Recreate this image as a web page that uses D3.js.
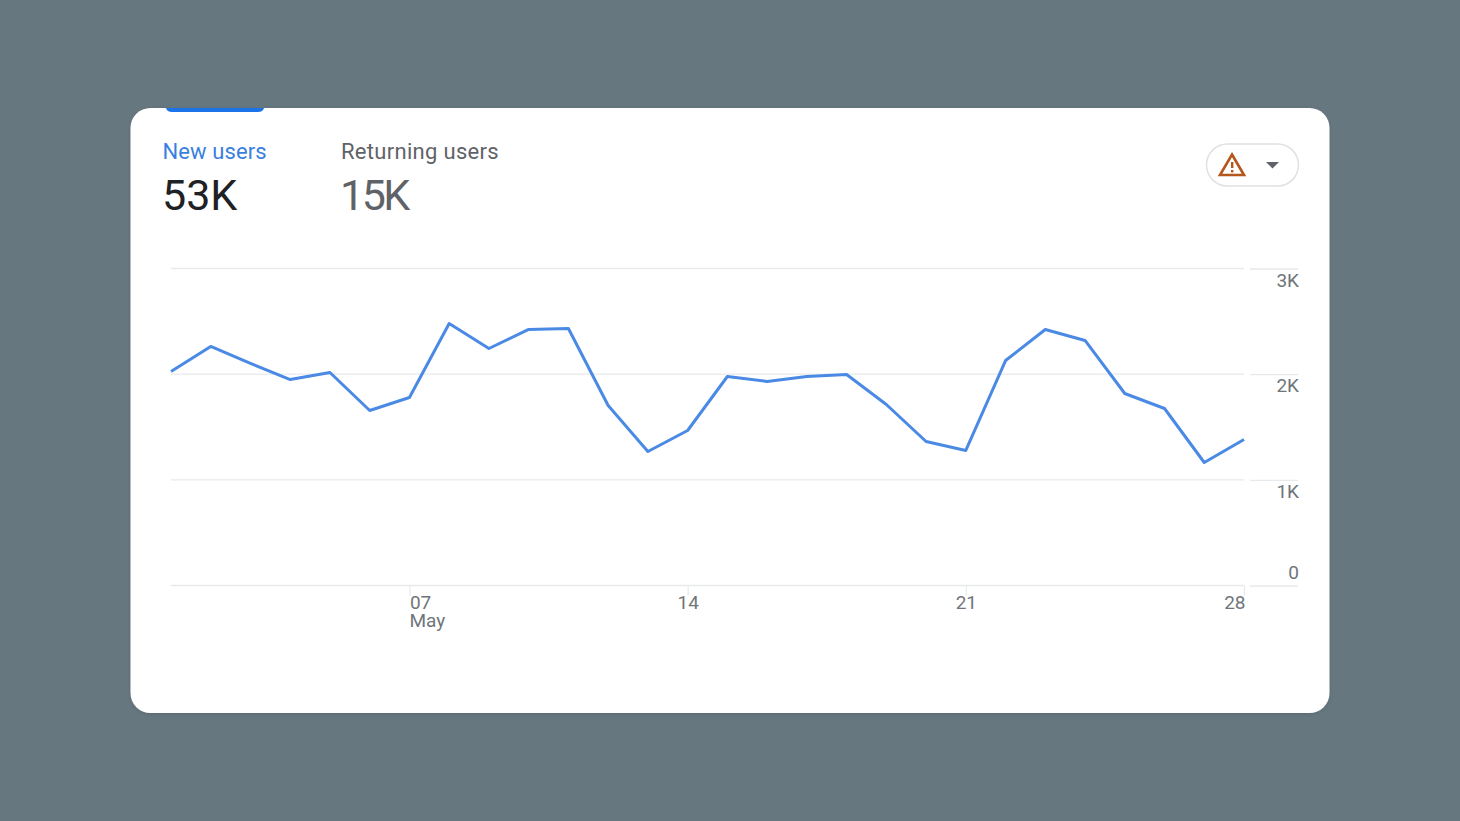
<!DOCTYPE html>
<html>
<head>
  <meta charset="utf-8">
  <title>New users</title>
  <script src="https://d3js.org/d3.v7.min.js"></script>
  <style>
    html, body { margin: 0; padding: 0; background: #677780; }
    svg { display: block; font-family: Roboto, sans-serif; }
    .domain { display: none; }
  </style>
</head>
<body>
  <svg id="chart" width="1460" height="821"></svg>
  <script>
    // daily new users, 1-28 May
    var days = d3.range(1, 29);
    var newUsers = [2025, 2262, 2101, 1949, 2016, 1656, 1779, 2479, 2243, 2423, 2432, 1703, 1268, 1467,
                    1978, 1931, 1978, 1997, 1713, 1363, 1278, 2129, 2423, 2319, 1817, 1675, 1164, 1382];
    var xTicks = [7, 14, 21, 28];
    var xTickLabels = ['07', '14', '21', '28'];
    var yTicks = [0, 1000, 2000, 3000];
    var yTickLabels = ['0', '1K', '2K', '3K'];

    var svg = d3.select('#chart');

    var x = d3.scaleLinear().domain([1, 28]).range([171, 1244]);
    var y = d3.scaleLinear().domain([0, 3000]).range([585.5, 268.5]);

    // card
    var defs = svg.append('defs');
    var shadow = defs.append('filter').attr('id', 'shadow')
        .attr('x', '-5%').attr('y', '-5%').attr('width', '110%').attr('height', '110%');
    shadow.append('feDropShadow')
        .attr('dx', 0).attr('dy', 1).attr('stdDeviation', 2)
        .attr('flood-color', '#000').attr('flood-opacity', 0.12);

    svg.append('rect')
        .attr('x', 130.5).attr('y', 108)
        .attr('width', 1199).attr('height', 605)
        .attr('rx', 20)
        .attr('fill', '#fff')
        .attr('filter', 'url(#shadow)');

    // selected tab marker
    svg.append('path')
        .attr('d', 'M166 108H264Q263 112 258 112H172Q167 112 166 108Z')
        .attr('fill', '#1a73e8');

    // tabs
    svg.append('text').attr('x', 162.5).attr('y', 159)
        .attr('font-size', 22).attr('letter-spacing', 0.1).attr('fill', '#3a7fe0').text('New users');
    svg.append('text').attr('x', 162).attr('y', 210)
        .attr('font-size', 43).attr('fill', '#202124').text('53K');
    svg.append('text').attr('x', 341).attr('y', 159)
        .attr('font-size', 22).attr('letter-spacing', 0.3).attr('fill', '#5f6368').text('Returning users');
    svg.append('text').attr('x', 340).attr('y', 210)
        .attr('font-size', 43).attr('letter-spacing', -2.5).attr('fill', '#5f6368').text('15K');

    // warning button
    svg.append('rect')
        .attr('x', 1206.5).attr('y', 144)
        .attr('width', 92).attr('height', 42)
        .attr('rx', 21)
        .attr('fill', '#fff')
        .attr('stroke', '#dfe1e3')
        .attr('stroke-width', 1.5);
    svg.append('path')
        .attr('d', 'M1232 154.5L1244 175H1220Z')
        .attr('fill', 'none')
        .attr('stroke', '#b5561c')
        .attr('stroke-width', 2.6)
        .attr('stroke-linejoin', 'miter');
    svg.append('rect').attr('x', 1231).attr('y', 162).attr('width', 2.4).attr('height', 6).attr('fill', '#b5561c');
    svg.append('rect').attr('x', 1231).attr('y', 170).attr('width', 2.4).attr('height', 2.4).attr('fill', '#b5561c');
    svg.append('path')
        .attr('d', 'M1266 162H1279L1272.5 168.5Z')
        .attr('fill', '#5f6368');

    // y axis: gridlines, with a short piece under each label
    var yAxis = svg.append('g')
        .attr('transform', 'translate(1250,0)')
        .call(d3.axisRight(y)
          .tickValues(yTicks)
          .tickSize(48)
          .tickFormat(function(d) { return yTickLabels[yTicks.indexOf(d)]; }));
    yAxis.selectAll('line').attr('stroke', '#e8e9eb').attr('stroke-width', 1.4);
    yAxis.selectAll('text')
        .attr('x', 49)
        .attr('dy', function(d) { return d === 0 ? -7.5 : 17.5; })
        .attr('text-anchor', 'end')
        .attr('font-family', 'Roboto, sans-serif')
        .attr('font-size', 19)
        .attr('fill', '#70757a');

    svg.append('g').selectAll('line')
        .data(yTicks)
        .enter().append('line')
        .attr('x1', 171).attr('x2', 1244)
        .attr('y1', function(d) { return y(d); })
        .attr('y2', function(d) { return y(d); })
        .attr('stroke', '#e8e9eb')
        .attr('stroke-width', 1.4);

    // x axis
    var xAxis = svg.append('g')
        .attr('transform', 'translate(0,' + y(0) + ')')
        .call(d3.axisBottom(x)
          .tickValues(xTicks)
          .tickSize(10)
          .tickFormat(function(d) { return xTickLabels[xTicks.indexOf(d)]; }));
    xAxis.selectAll('line').attr('stroke', '#e8e9eb').attr('stroke-width', 1.2);
    xAxis.selectAll('text')
        .attr('y', 23.5)
        .attr('dy', 0)
        .attr('dx', function(d) { return d === 28 ? 1 : 0; })
        .attr('font-family', 'Roboto, sans-serif')
        .attr('font-size', 19)
        .attr('fill', '#70757a')
        .attr('text-anchor', function(d) { return d === 7 ? 'start' : d === 28 ? 'end' : 'middle'; });
    svg.append('text')
        .attr('x', x(7)).attr('y', 627)
        .attr('font-size', 19).attr('fill', '#70757a')
        .text('May');

    // the line
    var line = d3.line()
        .x(function(d) { return x(d); })
        .y(function(d, i) { return y(newUsers[i]); });

    svg.append('path')
        .datum(days)
        .attr('d', line)
        .attr('fill', 'none')
        .attr('stroke', '#4a8ae4')
        .attr('stroke-width', 3)
        .attr('stroke-linejoin', 'round');
  </script>
</body>
</html>
